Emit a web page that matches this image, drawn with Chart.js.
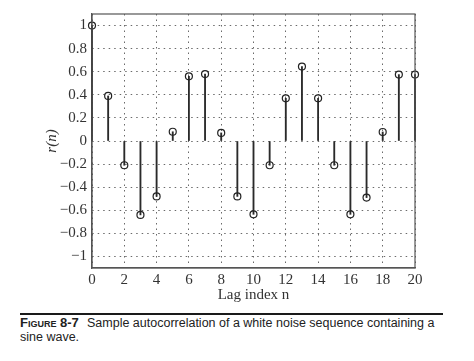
<!DOCTYPE html>
<html>
<head>
<meta charset="utf-8">
<script src="https://cdn.jsdelivr.net/npm/chart.js@4/dist/chart.umd.min.js"></script>
<style>
  html, body { margin: 0; padding: 0; background: #fff; }
  #wrap { position: relative; width: 474px; height: 361px; overflow: hidden; }
  #chartBox { position: absolute; left: 0; top: 0; width: 474px; height: 308px; }
  #rule { position: absolute; left: 20px; top: 313px; width: 423px; height: 2px; background: #1a1a1a; }
  #caption { position: absolute; left: 20px; top: 316px; width: 430px; font-family: "Liberation Sans", Arial, sans-serif; font-size: 12.5px; line-height: 14px; color: #222; }
  #caption .lbl { display: inline-block; width: 67px; font-weight: bold; font-variant: small-caps; font-size: 13px; }
</style>
</head>
<body>
<div id="wrap">
  <div id="chartBox"><canvas id="c" width="474" height="308"></canvas></div>
  <div id="rule"></div>
  <div id="caption"><span class="lbl">Figure 8-7</span>Sample autocorrelation of a white noise sequence containing a sine wave.</div>
</div>
<script>
const lags = [0,1,2,3,4,5,6,7,8,9,10,11,12,13,14,15,16,17,18,19,20];
const rValues = [1.0,0.39,-0.21,-0.64,-0.48,0.08,0.56,0.58,0.07,-0.48,-0.635,-0.21,0.37,0.645,0.37,-0.21,-0.635,-0.49,0.078,0.575,0.575];
const xTicks = [0,2,4,6,8,10,12,14,16,18,20];
const yTicks = [-1,-0.8,-0.6,-0.4,-0.2,0,0.2,0.4,0.6,0.8,1];
const xTitle = 'Lag index n';
const yTitle = 'r(n)';

const points = lags.map((x, i) => ({ x: x, y: rValues[i] }));

const boxPlugin = {
  id: 'boxPlugin',
  afterDatasetsDraw(chart) {
    const a = chart.chartArea, ctx = chart.ctx;
    ctx.save();
    ctx.strokeStyle = '#555';
    ctx.lineWidth = 1.2;
    ctx.strokeRect(a.left, a.top, a.right - a.left, a.bottom - a.top);
    ctx.restore();
  }
};

const fmt = v => {
  const s = String(Math.round(v * 10) / 10);
  return s.replace('-', '\u2212');
};

const serif = '"Liberation Serif", "DejaVu Serif", serif';

new Chart(document.getElementById('c'), {
  data: {
    datasets: [
      {
        type: 'scatter',
        data: points,
        pointStyle: 'circle',
        pointRadius: 3.5,
        pointBorderWidth: 1.2,
        pointBorderColor: '#222',
        pointBackgroundColor: 'rgba(255,255,255,0)',
        clip: false,
        order: 0
      },
      {
        type: 'bar',
        data: points,
        backgroundColor: '#2a2a2a',
        barThickness: 1.2,
        clip: false,
        order: 1
      }
    ]
  },
  options: {
    responsive: false,
    animation: false,
    layout: { padding: { left: 39, right: 59, top: 13, bottom: 0 } },
    plugins: { legend: { display: false }, tooltip: { enabled: false } },
    scales: {
      x: {
        type: 'linear',
        min: 0, max: 20,
        offset: false,
        afterBuildTicks: s => { s.ticks = xTicks.map(v => ({ value: v })); },
        afterFit: s => { s.height = 40; },
        ticks: { color: '#333', padding: 3, font: { family: serif, size: 15 }, callback: v => fmt(v), maxRotation: 0, autoSkip: false },
        grid: { color: '#6a6a6a', lineWidth: 1, drawTicks: false, offset: false },
        border: { display: true, color: '#555', width: 1.2, dash: [1.5, 4] },
        title: { display: true, text: xTitle, color: '#333', font: { family: serif, size: 15 }, padding: { top: 2, bottom: 4 } }
      },
      y: {
        type: 'linear',
        min: -1.1, max: 1.1,
        afterBuildTicks: s => { s.ticks = yTicks.map(v => ({ value: v })); },
        afterFit: s => { s.width = 53; },
        ticks: { color: '#333', padding: 5, font: { family: serif, size: 15 }, callback: v => fmt(v), autoSkip: false },
        grid: { color: '#6a6a6a', lineWidth: 1, drawTicks: false },
        border: { display: true, color: '#555', width: 1.2, dash: [1.5, 4] },
        title: { display: true, text: yTitle, color: '#333', font: { family: serif, size: 15, style: 'italic' }, padding: { top: 4, bottom: 4 } }
      }
    }
  },
  plugins: [boxPlugin]
});
</script>
</body>
</html>
